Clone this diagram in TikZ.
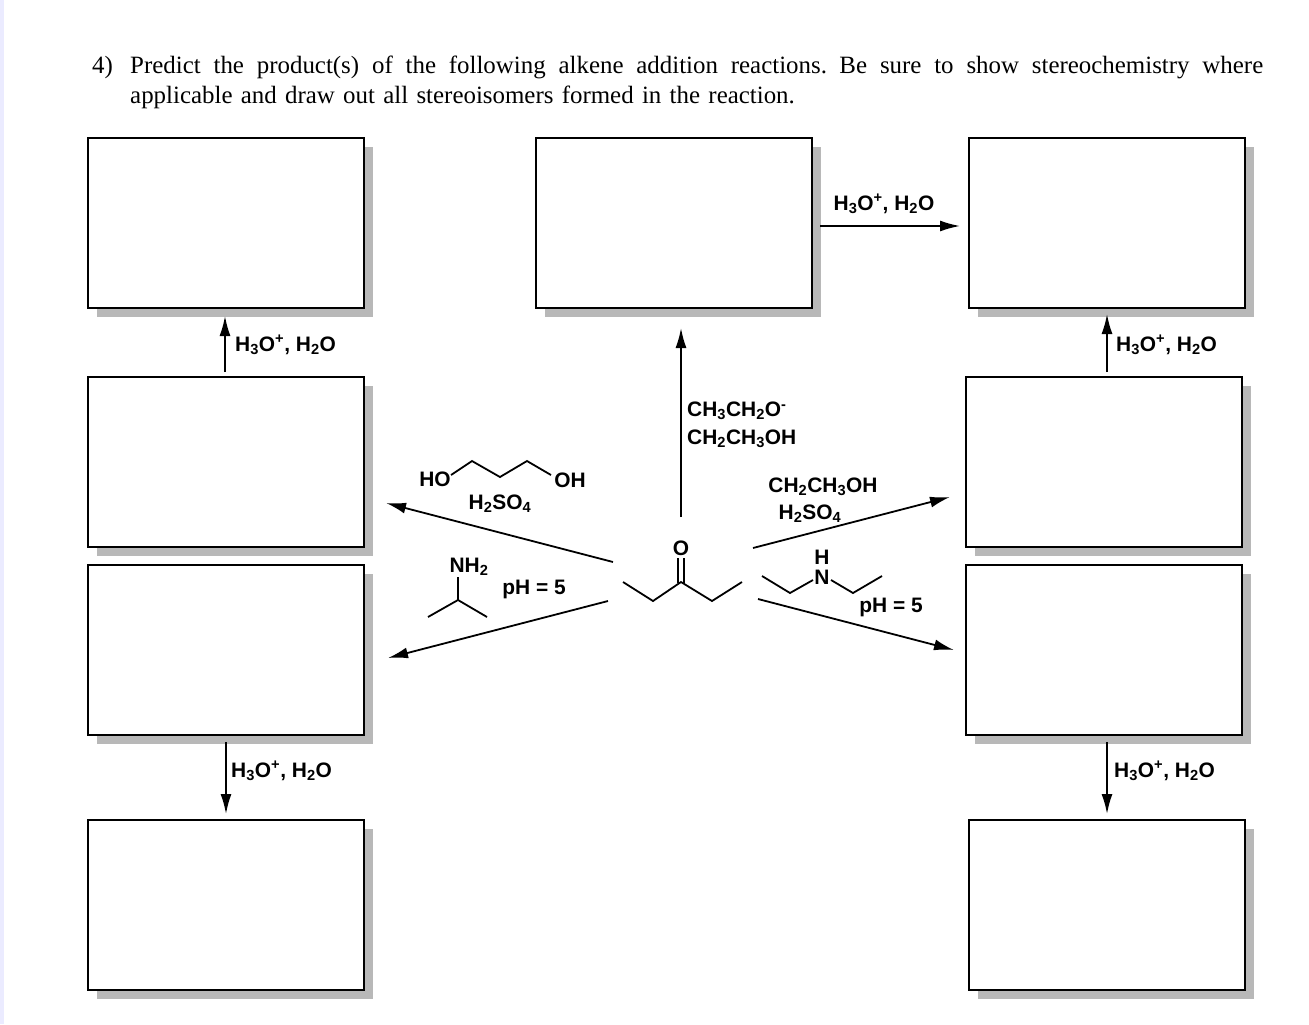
\documentclass[tikz,border=0pt]{standalone}
\usepackage{fontspec}
\setmainfont{Liberation Serif}
\setsansfont{Liberation Sans}
\usetikzlibrary{arrows.meta}
\begin{document}
\begin{tikzpicture}[x=1bp,y=-1bp,
  box/.style={draw=black,line width=2bp,fill=white},
  shad/.style={fill=black!28,draw=none},
  arr/.style={line width=1.8bp,-{Latex[length=20bp,width=11bp]}},
  bond/.style={line width=1.8bp},
  lab/.style={font=\sffamily\bfseries\fontsize{21}{24}\selectfont,inner sep=1bp}]
\useasboundingbox (0,0) rectangle (1309,1024);
\fill[blue!8] (0,0) rectangle (4,1024);
\node[anchor=north west,inner sep=0,font=\fontsize{25}{30}\selectfont] (t1) at (92,56) {4)};
\node[anchor=north west,inner sep=0,text width=1133bp,align=left,font=\fontsize{25}{30}\selectfont] (title) at (130,56)
 {\hbox to 1133bp{\spaceskip=0.25em plus 1fill\relax Predict the product(s) of the following alkene addition reactions. Be sure to show stereochemistry where}\\ applicable and draw out all stereoisomers formed in the reaction.};
% boxes
\foreach \n/\x/\y in {tl/88/138,tm/536/138,tr/969/138,ml/88/377,mr/966/377,ll/88/565,lr/966/565,bl/88/820,br/969/820}{
  \fill[shad] (\x+9,\y+9) rectangle (\x+285,\y+179);
  \draw[box] (\x,\y) rectangle (\x+276,\y+170);
  \coordinate (\n) at (\x,\y);
}
% vertical arrows
\coordinate (a1) at (225,372); \coordinate (a1e) at (225,316);
\draw[arr] (a1) -- (a1e);
\node[lab,anchor=west] (l1) at (234,345) {H\textsubscript{3}O\textsuperscript{+}, H\textsubscript{2}O};
\coordinate (a2) at (1107,372); \coordinate (a2e) at (1107,314);
\draw[arr] (a2) -- (a2e);
\node[lab,anchor=west] (l2) at (1115,345) {H\textsubscript{3}O\textsuperscript{+}, H\textsubscript{2}O};
\coordinate (a3) at (226,742); \coordinate (a3e) at (226,814);
\draw[arr] (a3) -- (a3e);
\node[lab,anchor=west] (l3) at (230,771) {H\textsubscript{3}O\textsuperscript{+}, H\textsubscript{2}O};
\coordinate (a4) at (1107,742); \coordinate (a4e) at (1107,814);
\draw[arr] (a4) -- (a4e);
\node[lab,anchor=west] (l4) at (1113,771) {H\textsubscript{3}O\textsuperscript{+}, H\textsubscript{2}O};
\coordinate (a5) at (820,226); \coordinate (a5e) at (960,226);
\draw[arr] (a5) -- (a5e);
\node[lab] (l5) at (884,204) {H\textsubscript{3}O\textsuperscript{+}, H\textsubscript{2}O};
% center up
\coordinate (c0) at (681,517); \coordinate (c1) at (681,328);
\draw[arr] (c0) -- (c1);
\node[lab,anchor=west] (l6) at (686,411) {CH\textsubscript{3}CH\textsubscript{2}O\textsuperscript{-}};
\node[lab,anchor=west] (l7) at (686,439) {CH\textsubscript{2}CH\textsubscript{3}OH};
% diagonals
\coordinate (d1) at (613,562); \coordinate (d1e) at (386,503);
\draw[arr] (d1) -- (d1e);
\coordinate (d2) at (608,601); \coordinate (d2e) at (388,658);
\draw[arr] (d2) -- (d2e);
\coordinate (d3) at (753,548); \coordinate (d3e) at (950,497);
\draw[arr] (d3) -- (d3e);
\coordinate (d4) at (758,599); \coordinate (d4e) at (954,650);
\draw[arr] (d4) -- (d4e);
% ketone
\node[lab] (O) at (681,548) {O};
\draw[bond] (678,558) -- (678,583) (684,558) -- (684,583);
\draw[bond] (623,582) -- (653,601) -- (681,582) -- (712,601) -- (742,582);
% diol
\node[lab] (ho) at (435,479) {HO};
\node[lab] (oh) at (570,480) {OH};
\draw[bond] (451,475) -- (472,461) -- (500,477) -- (527,461) -- (551,475);
\node[lab] (h2so4a) at (500,504) {H\textsubscript{2}SO\textsubscript{4}};
% isopropylamine
\node[lab] (nh2) at (469,567) {NH\textsubscript{2}};
\draw[bond] (458,577) -- (458,600) (428,617) -- (458,600) -- (487,617);
\node[lab] (ph1) at (534,589) {pH = 5};
% right reagents
\node[lab] (r1) at (823,487) {CH\textsubscript{2}CH\textsubscript{3}OH};
\node[lab] (r2) at (810,514) {H\textsubscript{2}SO\textsubscript{4}};
\node[lab] (N) at (822,577) {N};
\node[lab] (H) at (822,557) {H};
\draw[bond] (762,576) -- (790,593) -- (813,580) (831,580) -- (853,593) -- (882,576);
\node[lab] (ph2) at (891,607) {pH = 5};
\end{tikzpicture}
\end{document}
